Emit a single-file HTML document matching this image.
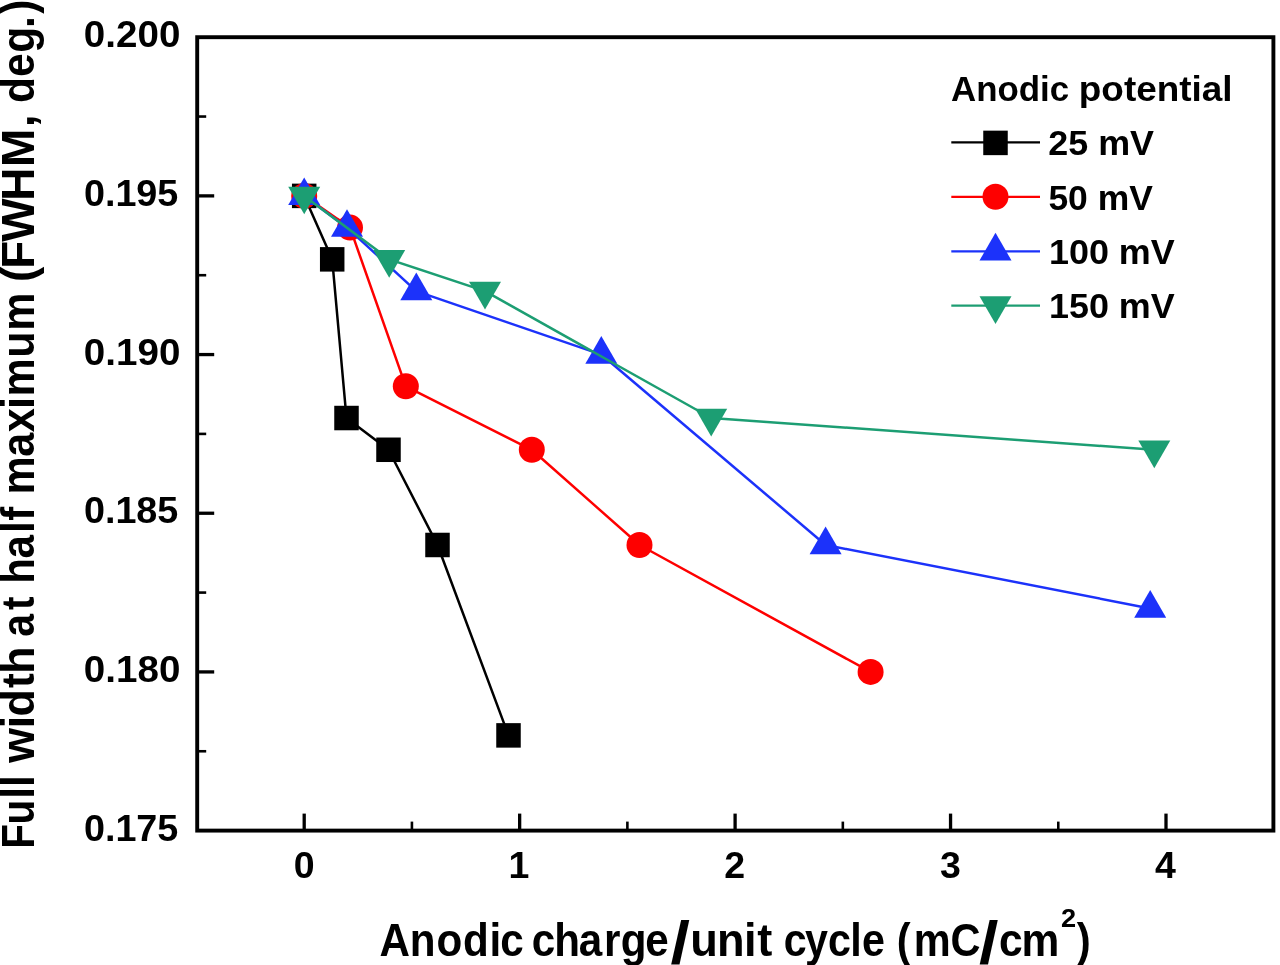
<!DOCTYPE html>
<html lang="en"><head><meta charset="utf-8"><title>FWHM vs anodic charge per unit cycle</title>
<style>
html,body{margin:0;padding:0;background:#fff;}
body{width:1280px;height:965px;overflow:hidden;}
svg{display:block;}
text{font-family:"Liberation Sans",sans-serif;font-weight:bold;fill:#000;font-kerning:none;font-variant-ligatures:none;}
.tk{font-size:37.5px;}
.ttl{font-size:46.0px;}
.lg{font-size:35.0px;}
.sup{font-size:26.5px;}
</style></head><body>
<svg width="1280" height="965" viewBox="0 0 1280 965">
<defs><filter id="soft" x="-2%" y="-2%" width="104%" height="104%"><feGaussianBlur stdDeviation="0.7"/></filter></defs>
<rect x="0" y="0" width="1280" height="965" fill="#fff"/>
<g filter="url(#soft)">
<rect x="197.2" y="37.2" width="1076.20" height="793.40" fill="none" stroke="#000" stroke-width="3.9"/>
<g stroke="#000" fill="none"><line x1="304.20" y1="830.6" x2="304.20" y2="813.6" stroke-width="3.3"/><line x1="519.65" y1="830.6" x2="519.65" y2="813.6" stroke-width="3.3"/><line x1="735.10" y1="830.6" x2="735.10" y2="813.6" stroke-width="3.3"/><line x1="950.55" y1="830.6" x2="950.55" y2="813.6" stroke-width="3.3"/><line x1="1166.00" y1="830.6" x2="1166.00" y2="813.6" stroke-width="3.3"/><line x1="411.92" y1="830.6" x2="411.92" y2="821.6" stroke-width="2.6"/><line x1="627.38" y1="830.6" x2="627.38" y2="821.6" stroke-width="2.6"/><line x1="842.83" y1="830.6" x2="842.83" y2="821.6" stroke-width="2.6"/><line x1="1058.27" y1="830.6" x2="1058.27" y2="821.6" stroke-width="2.6"/><line x1="197.2" y1="671.92" x2="214.2" y2="671.92" stroke-width="3.3"/><line x1="197.2" y1="513.24" x2="214.2" y2="513.24" stroke-width="3.3"/><line x1="197.2" y1="354.56" x2="214.2" y2="354.56" stroke-width="3.3"/><line x1="197.2" y1="195.88" x2="214.2" y2="195.88" stroke-width="3.3"/><line x1="197.2" y1="751.26" x2="206.2" y2="751.26" stroke-width="2.6"/><line x1="197.2" y1="592.58" x2="206.2" y2="592.58" stroke-width="2.6"/><line x1="197.2" y1="433.90" x2="206.2" y2="433.90" stroke-width="2.6"/><line x1="197.2" y1="275.22" x2="206.2" y2="275.22" stroke-width="2.6"/><line x1="197.2" y1="116.54" x2="206.2" y2="116.54" stroke-width="2.6"/></g>
<polyline points="304.20,195.88 332.20,259.35 346.50,418.03 388.50,449.77 437.50,544.98 508.50,735.39" fill="none" stroke="#000000" stroke-width="2.5" stroke-linejoin="round"/>
<rect x="291.95" y="183.63" width="24.5" height="24.5" fill="#000000"/><rect x="319.95" y="247.10" width="24.5" height="24.5" fill="#000000"/><rect x="334.25" y="405.78" width="24.5" height="24.5" fill="#000000"/><rect x="376.25" y="437.52" width="24.5" height="24.5" fill="#000000"/><rect x="425.25" y="532.73" width="24.5" height="24.5" fill="#000000"/><rect x="496.25" y="723.14" width="24.5" height="24.5" fill="#000000"/>
<polyline points="304.20,195.88 350.00,227.62 405.80,386.30 531.80,449.77 639.50,544.98 870.60,671.92" fill="none" stroke="#fe0000" stroke-width="2.5" stroke-linejoin="round"/>
<circle cx="304.20" cy="195.88" r="13.0" fill="#fe0000"/><circle cx="350.00" cy="227.62" r="13.0" fill="#fe0000"/><circle cx="405.80" cy="386.30" r="13.0" fill="#fe0000"/><circle cx="531.80" cy="449.77" r="13.0" fill="#fe0000"/><circle cx="639.50" cy="544.98" r="13.0" fill="#fe0000"/><circle cx="870.60" cy="671.92" r="13.0" fill="#fe0000"/>
<polyline points="304.20,195.88 347.00,227.62 416.30,291.09 601.30,354.56 825.60,544.98 1150.20,608.45" fill="none" stroke="#1c32fa" stroke-width="2.5" stroke-linejoin="round"/>
<polygon points="304.20,177.40 288.20,205.12 320.20,205.12" fill="#1c32fa"/><polygon points="347.00,209.14 331.00,236.85 363.00,236.85" fill="#1c32fa"/><polygon points="416.30,272.61 400.30,300.33 432.30,300.33" fill="#1c32fa"/><polygon points="601.30,336.08 585.30,363.80 617.30,363.80" fill="#1c32fa"/><polygon points="825.60,526.50 809.60,554.21 841.60,554.21" fill="#1c32fa"/><polygon points="1150.20,589.97 1134.20,617.69 1166.20,617.69" fill="#1c32fa"/>
<polyline points="304.20,195.88 389.20,259.35 485.00,291.09 711.20,418.03 1154.30,449.77" fill="none" stroke="#1f9e73" stroke-width="2.5" stroke-linejoin="round"/>
<polygon points="304.20,214.36 288.20,186.64 320.20,186.64" fill="#1f9e73"/><polygon points="389.20,277.83 373.20,250.11 405.20,250.11" fill="#1f9e73"/><polygon points="485.00,309.56 469.00,281.85 501.00,281.85" fill="#1f9e73"/><polygon points="711.20,436.51 695.20,408.79 727.20,408.79" fill="#1f9e73"/><polygon points="1154.30,468.24 1138.30,440.53 1170.30,440.53" fill="#1f9e73"/>
<line x1="951.3" y1="142.3" x2="1040.0" y2="142.3" stroke="#000000" stroke-width="2.2"/>
<rect x="983.25" y="130.65" width="24.5" height="24.5" fill="#000000"/>
<text class="lg" x="1048.26" y="155.00" textLength="105.74" lengthAdjust="spacingAndGlyphs">25 mV</text>
<line x1="951.3" y1="196.8" x2="1040.0" y2="196.8" stroke="#fe0000" stroke-width="2.2"/>
<circle cx="995.50" cy="196.80" r="13.0" fill="#fe0000"/>
<text class="lg" x="1048.41" y="209.80" textLength="104.43" lengthAdjust="spacingAndGlyphs">50 mV</text>
<line x1="951.3" y1="251.3" x2="1040.0" y2="251.3" stroke="#1c32fa" stroke-width="2.2"/>
<polygon points="995.50,232.82 979.50,260.54 1011.50,260.54" fill="#1c32fa"/>
<text class="lg" x="1048.94" y="264.00" textLength="125.81" lengthAdjust="spacingAndGlyphs">100 mV</text>
<line x1="951.3" y1="305.6" x2="1040.0" y2="305.6" stroke="#1f9e73" stroke-width="2.2"/>
<polygon points="995.50,324.08 979.50,296.36 1011.50,296.36" fill="#1f9e73"/>
<text class="lg" x="1048.94" y="318.20" textLength="125.81" lengthAdjust="spacingAndGlyphs">150 mV</text>
<text class="lg" y="101.2"><tspan x="951.03" textLength="118.09" lengthAdjust="spacingAndGlyphs">Anodic</tspan> <tspan x="1078.82" textLength="153.80" lengthAdjust="spacingAndGlyphs">potential</tspan></text>
<text class="tk" x="293.70" y="877.6">0</text>
<text class="tk" x="508.51" y="877.6">1</text>
<text class="tk" x="724.37" y="877.6">2</text>
<text class="tk" x="940.12" y="877.6">3</text>
<text class="tk" x="1154.99" y="877.6">4</text>
<text class="tk" x="83.91" y="840.60" textLength="94.44" lengthAdjust="spacingAndGlyphs">0.175</text>
<text class="tk" x="83.87" y="681.92" textLength="96.51" lengthAdjust="spacingAndGlyphs">0.180</text>
<text class="tk" x="83.91" y="523.24" textLength="94.44" lengthAdjust="spacingAndGlyphs">0.185</text>
<text class="tk" x="83.87" y="364.56" textLength="96.51" lengthAdjust="spacingAndGlyphs">0.190</text>
<text class="tk" x="83.91" y="205.88" textLength="94.44" lengthAdjust="spacingAndGlyphs">0.195</text>
<text class="tk" x="83.87" y="47.20" textLength="96.51" lengthAdjust="spacingAndGlyphs">0.200</text>
<text class="ttl" transform="translate(379.48,956.20) scale(0.9181,1)" x="0.00 32.99 62.22 91.11 119.87 131.46" y="0">Anodic</text>
<text class="ttl" transform="translate(531.77,956.20) scale(0.9166,1)" x="0.00 24.48 51.34 78.83 97.13 123.86" y="0">charge</text>
<text class="ttl" style="font-size:58.4px" transform="translate(670.56,962.80) scale(1.2000,1)" x="0.00" y="0">/</text>
<text class="ttl" transform="translate(690.37,956.20) scale(0.9818,1)" x="0.00 27.17 54.70 68.05" y="0">unit</text>
<text class="ttl" transform="translate(783.67,956.20) scale(0.8955,1)" x="0.00 23.81 49.52 74.35 87.35" y="0">cycle</text>
<text class="ttl" transform="translate(896.74,956.20) scale(0.9030,1)" x="0.00 18.72 59.63" y="0">(mC</text>
<text class="ttl" style="font-size:58.4px" transform="translate(979.01,962.80) scale(1.2000,1)" x="0.00" y="0">/</text>
<text class="ttl" transform="translate(998.92,956.20) scale(0.9242,1)" x="0.00 24.45" y="0">cm</text>
<text class="sup" x="1060.96" y="927.30" textLength="15.13" lengthAdjust="spacingAndGlyphs">2</text>
<text class="ttl" transform="translate(1076.86,956.20) scale(0.9128,1)" x="0.00" y="0">)</text>
<text class="ttl" transform="translate(33.80,848.64) rotate(-90) scale(0.8810,1)" x="0.00 27.40 56.99 70.13" y="0">Full</text>
<text class="ttl" transform="translate(33.80,762.85) rotate(-90) scale(0.9707,1)" x="0.00 35.53 47.71 77.17 91.72" y="0">width</text>
<text class="ttl" transform="translate(33.80,636.79) rotate(-90) scale(0.8884,1)" x="0.00 30.27" y="0">at</text>
<text class="ttl" transform="translate(33.80,583.64) rotate(-90) scale(0.9164,1)" x="0.00 27.54 55.25 68.53" y="0">half</text>
<text class="ttl" transform="translate(33.80,494.47) rotate(-90) scale(0.9359,1)" x="0.00 40.24 66.47 91.21 104.77 146.07 174.89" y="0">maximum</text>
<text class="ttl" transform="translate(33.80,281.89) rotate(-90) scale(0.9984,1)" x="0.00 13.14 40.28 81.38 115.13 154.82" y="0">(FWHM,</text>
<text class="ttl" transform="translate(33.80,103.10) rotate(-90) scale(0.9255,1)" x="0.00 28.26 54.37 81.07 96.48" y="0">deg.)</text>
</g></svg></body></html>
